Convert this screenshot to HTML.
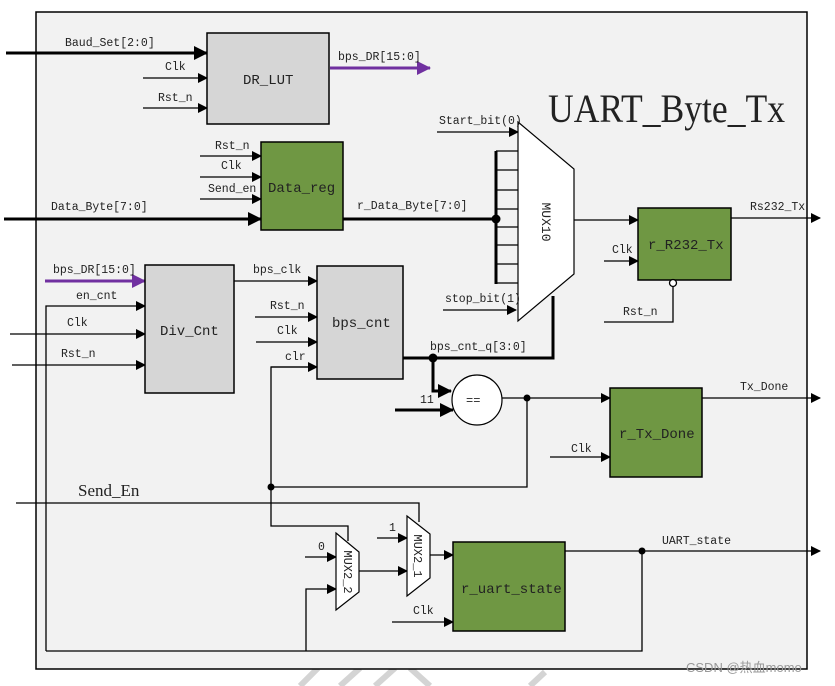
<!DOCTYPE html>
<html><head><meta charset="utf-8"><style>
html,body{margin:0;padding:0;background:#fff;}
svg{display:block;}
text{font-family:"Liberation Mono","Liberation Serif",monospace;fill:#222;}
</style></head><body>
<svg width="835" height="686" viewBox="0 0 835 686" xmlns="http://www.w3.org/2000/svg" font-size="11.5">
<defs>
<marker id="a" markerWidth="10" markerHeight="10" refX="9" refY="5" orient="auto" markerUnits="userSpaceOnUse"><path d="M0,0 L10,5 L0,10 z" fill="#000"/></marker>
<marker id="ab" markerWidth="14" markerHeight="14" refX="13" refY="7" orient="auto" markerUnits="userSpaceOnUse"><path d="M0,0 L14,7 L0,14 z" fill="#000"/></marker>
<marker id="ap" markerWidth="14" markerHeight="14" refX="13" refY="7" orient="auto" markerUnits="userSpaceOnUse"><path d="M0,0 L14,7 L0,14 z" fill="#7030a0"/></marker>
</defs>
<g stroke="#d4d4d4" stroke-width="6">
<line x1="300" y1="686" x2="318" y2="668"/><line x1="340" y1="686" x2="360" y2="668"/><line x1="375" y1="686" x2="395" y2="668"/><line x1="410" y1="668" x2="430" y2="686"/><line x1="530" y1="686" x2="545" y2="672"/>
</g>
<rect x="36" y="12" width="771" height="657" fill="#f2f2f2" stroke="#000" stroke-width="1.5"/>
<g fill="none" stroke="#000" stroke-width="1.3">
<line x1="6" y1="53" x2="207" y2="53" stroke-width="3" marker-end="url(#ab)"/>
<line x1="143" y1="78" x2="207" y2="78" marker-end="url(#a)"/>
<line x1="143" y1="108" x2="207" y2="108" marker-end="url(#a)"/>
<line x1="330" y1="68" x2="430" y2="68" stroke="#7030a0" stroke-width="3" marker-end="url(#ap)"/>
<line x1="200" y1="156" x2="261" y2="156" marker-end="url(#a)"/>
<line x1="200" y1="177" x2="261" y2="177" marker-end="url(#a)"/>
<line x1="200" y1="199" x2="261" y2="199" marker-end="url(#a)"/>
<line x1="4" y1="219" x2="261" y2="219" stroke-width="3" marker-end="url(#ab)"/>
<line x1="343" y1="219" x2="496" y2="219" stroke-width="3"/>
<line x1="496" y1="151" x2="496" y2="284" stroke-width="3"/>
<line x1="496" y1="151" x2="518" y2="151"/><line x1="496" y1="170" x2="518" y2="170"/><line x1="496" y1="190" x2="518" y2="190"/><line x1="496" y1="209" x2="518" y2="209"/><line x1="496" y1="227" x2="518" y2="227"/><line x1="496" y1="245" x2="518" y2="245"/><line x1="496" y1="264" x2="518" y2="264"/><line x1="496" y1="283" x2="518" y2="283"/>
<line x1="437" y1="132" x2="518" y2="132" marker-end="url(#a)"/>
<line x1="443" y1="310" x2="516" y2="310" marker-end="url(#a)"/>
<line x1="574" y1="220" x2="638" y2="220" marker-end="url(#a)"/>
<line x1="604" y1="261" x2="638" y2="261" marker-end="url(#a)"/>
<polyline points="673,287 673,322 604,322"/>
<line x1="731" y1="218" x2="820" y2="218" marker-end="url(#a)"/>
<line x1="45" y1="281" x2="145" y2="281" stroke="#7030a0" stroke-width="3" marker-end="url(#ap)"/>
<polyline points="46,651 46,306 145,306" marker-end="url(#a)"/>
<line x1="10" y1="334" x2="145" y2="334" marker-end="url(#a)"/>
<line x1="12" y1="365" x2="145" y2="365" marker-end="url(#a)"/>
<line x1="234" y1="281" x2="317" y2="281" marker-end="url(#a)"/>
<line x1="255" y1="317" x2="317" y2="317" marker-end="url(#a)"/>
<line x1="256" y1="342" x2="317" y2="342" marker-end="url(#a)"/>
<polyline points="317,367 271,367 271,526 348,526 348,541" />
<line x1="271" y1="367" x2="317" y2="367" marker-end="url(#a)"/>
<polyline points="403,358 553,358 553,296" stroke-width="3"/>
<polyline points="433,358 433,391 451,391" stroke-width="3" marker-end="url(#ab)"/>
<line x1="395" y1="410" x2="453" y2="410" stroke-width="3" marker-end="url(#ab)"/>
<line x1="502" y1="398" x2="610" y2="398" marker-end="url(#a)"/>
<polyline points="527,398 527,487 271,487"/>
<line x1="550" y1="457" x2="610" y2="457" marker-end="url(#a)"/>
<line x1="702" y1="398" x2="820" y2="398" marker-end="url(#a)"/>
<polyline points="16,503 419,503 419,522"/>
<line x1="305" y1="557" x2="336" y2="557" marker-end="url(#a)"/>
<polyline points="306,651 306,589 336,589" marker-end="url(#a)"/>
<line x1="377" y1="538" x2="407" y2="538" marker-end="url(#a)"/>
<line x1="359" y1="571" x2="407" y2="571" marker-end="url(#a)"/>
<line x1="430" y1="555" x2="453" y2="555" marker-end="url(#a)"/>
<line x1="392" y1="622" x2="453" y2="622" marker-end="url(#a)"/>
<line x1="565" y1="551" x2="820" y2="551" marker-end="url(#a)"/>
<polyline points="642,551 642,651 46,651"/>
</g>
<g stroke="#000" stroke-width="1.5">
<rect x="207" y="33" width="122" height="91" fill="#d6d6d6"/>
<rect x="261" y="142" width="82" height="88" fill="#6f9743"/>
<rect x="638" y="208" width="93" height="72" fill="#6f9743"/>
<rect x="145" y="265" width="89" height="128" fill="#d6d6d6"/>
<rect x="317" y="266" width="86" height="113" fill="#d6d6d6"/>
<rect x="610" y="388" width="92" height="89" fill="#6f9743"/>
<rect x="453" y="542" width="112" height="89" fill="#6f9743"/>
<polygon points="518,122 574,169 574,274 518,321" fill="#fff" stroke-width="1.2"/>
<polygon points="336,533 359,552 359,592 336,610" fill="#fff" stroke-width="1.2"/>
<polygon points="407,516 430,534 430,578 407,596" fill="#fff" stroke-width="1.2"/>
<circle cx="477" cy="400" r="25" fill="#fff" stroke-width="1.2"/>
<circle cx="673" cy="283" r="3.5" fill="#fff" stroke-width="1.3"/>
</g>
<g fill="#000">
<circle cx="496" cy="219" r="4.5"/><circle cx="433" cy="358" r="4.5"/><circle cx="527" cy="398" r="3.5"/>
<circle cx="271" cy="487" r="3.5"/><circle cx="642" cy="551" r="3.5"/>
</g>
<text x="65" y="46">Baud_Set[2:0]</text>
<text x="165" y="70">Clk</text>
<text x="158" y="101">Rst_n</text>
<text x="243" y="84" style="font-size:14px">DR_LUT</text>
<text x="338" y="60">bps_DR[15:0]</text>
<text x="215" y="149">Rst_n</text>
<text x="221" y="169">Clk</text>
<text x="208" y="192">Send_en</text>
<text x="51" y="210">Data_Byte[7:0]</text>
<text x="268" y="192" style="font-size:14px">Data_reg</text>
<text x="357" y="209">r_Data_Byte[7:0]</text>
<text x="439" y="124">Start_bit(0)</text>
<text x="445" y="302">stop_bit(1)</text>
<text x="548" y="122" textLength="237" lengthAdjust="spacingAndGlyphs" style="font-family:'Liberation Serif',serif;font-size:40px">UART_Byte_Tx</text>
<text x="542" y="222" style="font-size:13px" transform="rotate(90 542 222)" text-anchor="middle">MUX10</text>
<text x="648" y="249" style="font-size:14px">r_R232_Tx</text>
<text x="612" y="253">Clk</text>
<text x="623" y="315">Rst_n</text>
<text x="750" y="210">Rs232_Tx</text>
<text x="53" y="273">bps_DR[15:0]</text>
<text x="76" y="299">en_cnt</text>
<text x="67" y="326">Clk</text>
<text x="61" y="357">Rst_n</text>
<text x="160" y="335" style="font-size:14px">Div_Cnt</text>
<text x="253" y="273">bps_clk</text>
<text x="270" y="309">Rst_n</text>
<text x="277" y="334">Clk</text>
<text x="285" y="360">clr</text>
<text x="332" y="327" style="font-size:14px">bps_cnt</text>
<text x="420" y="403">11</text>
<text x="430" y="350">bps_cnt_q[3:0]</text>
<text x="466" y="404" style="font-size:12px">==</text>
<text x="740" y="390">Tx_Done</text>
<text x="571" y="452">Clk</text>
<text x="619" y="438" style="font-size:14px">r_Tx_Done</text>
<text x="78" y="496" style="font-family:'Liberation Serif',serif;font-size:17px">Send_En</text>
<text x="318" y="550">0</text>
<text x="389" y="531">1</text>
<text x="344" y="572" style="font-size:12px" transform="rotate(90 344 572)" text-anchor="middle">MUX2_2</text>
<text x="414" y="556" style="font-size:12px" transform="rotate(90 414 556)" text-anchor="middle">MUX2_1</text>
<text x="461" y="593" style="font-size:14px">r_uart_state</text>
<text x="413" y="614">Clk</text>
<text x="662" y="544">UART_state</text>
<text x="686" y="672" style="font-family:'Liberation Sans','Noto Sans CJK SC',sans-serif;font-size:13px;fill:#999">CSDN @热血momo</text>
</svg>
</body></html>
